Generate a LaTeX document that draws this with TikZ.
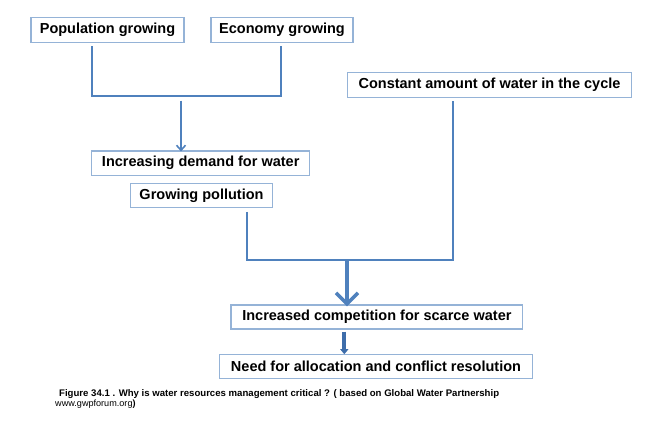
\documentclass[tikz,border=0pt]{standalone}
\usepackage{fontspec}
\setmainfont{Liberation Sans}
\usetikzlibrary{arrows.meta}
\definecolor{boxline}{HTML}{95B3D7}
\definecolor{conn}{HTML}{4F81BD}
\definecolor{connd}{HTML}{3E6DAA}
\tikzset{
  box/.style={draw=boxline, line width=1.2pt, fill=white, inner sep=0pt,
    font=\fontsize{14.5}{16}\selectfont\bfseries, text=black},
  link/.style={draw=conn, line width=2pt},
}
\begin{document}
\begin{tikzpicture}[x=1pt,y=-1pt]
\useasboundingbox (0,0) rectangle (660,427);
\node[box, minimum width=153pt, minimum height=25pt] (pop) at (107.5,29.8) {Population growing};
\node[box, minimum width=142pt, minimum height=25pt] (eco) at (282,29.8) {Economy growing};
\node[box, minimum width=284pt, minimum height=24.6pt] (const) at (489.5,85) {Constant amount of water in the cycle};
\node[box, minimum width=218pt, minimum height=24.3pt] (dem) at (200.7,163.2) {Increasing demand for water};
\node[box, minimum width=142.4pt, minimum height=24.4pt] (poll) at (201.5,195.5) {Growing pollution};
\node[box, minimum width=291.7pt, minimum height=24pt] (comp) at (376.9,317) {Increased competition for scarce water};
\node[box, minimum width=313.4pt, minimum height=24pt] (need) at (376,366.3) {Need for allocation and conflict resolution};

\coordinate (bl) at (91.7,96);
\coordinate (br) at (280.7,96);
\coordinate (bm) at (181,100.7);
\coordinate (jl) at (247.3,260);
\coordinate (jr) at (453.3,260);
\coordinate (jm) at (347,260);

\draw[link] ([yshift=-3.5pt]pop.south -| bl) -- (bl) -- (br) -- ([yshift=-3.5pt]eco.south -| br);
\draw[link, -{Straight Barb[length=5pt,width=9pt,line width=1.6pt]}] (bm) -- ([yshift=-1pt]dem.north -| bm);
\draw[link] ([yshift=-3.5pt]poll.south -| jl) -- (jl) -- (jr) -- ([yshift=-3.5pt]const.south -| jr);
\draw[draw=conn, line width=4pt, -{Straight Barb[length=11pt,width=22pt,line width=3.5pt]}] (jm) -- ([yshift=-2pt]comp.north -| jm);
\draw[draw=connd, line width=4pt, -{Triangle[length=5pt,width=8pt]}] ([yshift=-2pt]comp.south -| 344.3,0) -- ([yshift=-0.5pt]need.north -| 344.3,0);

\node[anchor=base west, inner sep=0pt, font=\fontsize{9.6}{11}\selectfont\bfseries] (cap1) at (59,396.5) {Figure 34.1 . Why is water resources management critical ? ( based on Global Water Partnership};
\node[anchor=base west, inner sep=0pt, font=\fontsize{9.1}{11}\selectfont] (cap2) at (55,406.5) {www.gwpforum.org\textbf{)}};
\end{tikzpicture}
\end{document}
